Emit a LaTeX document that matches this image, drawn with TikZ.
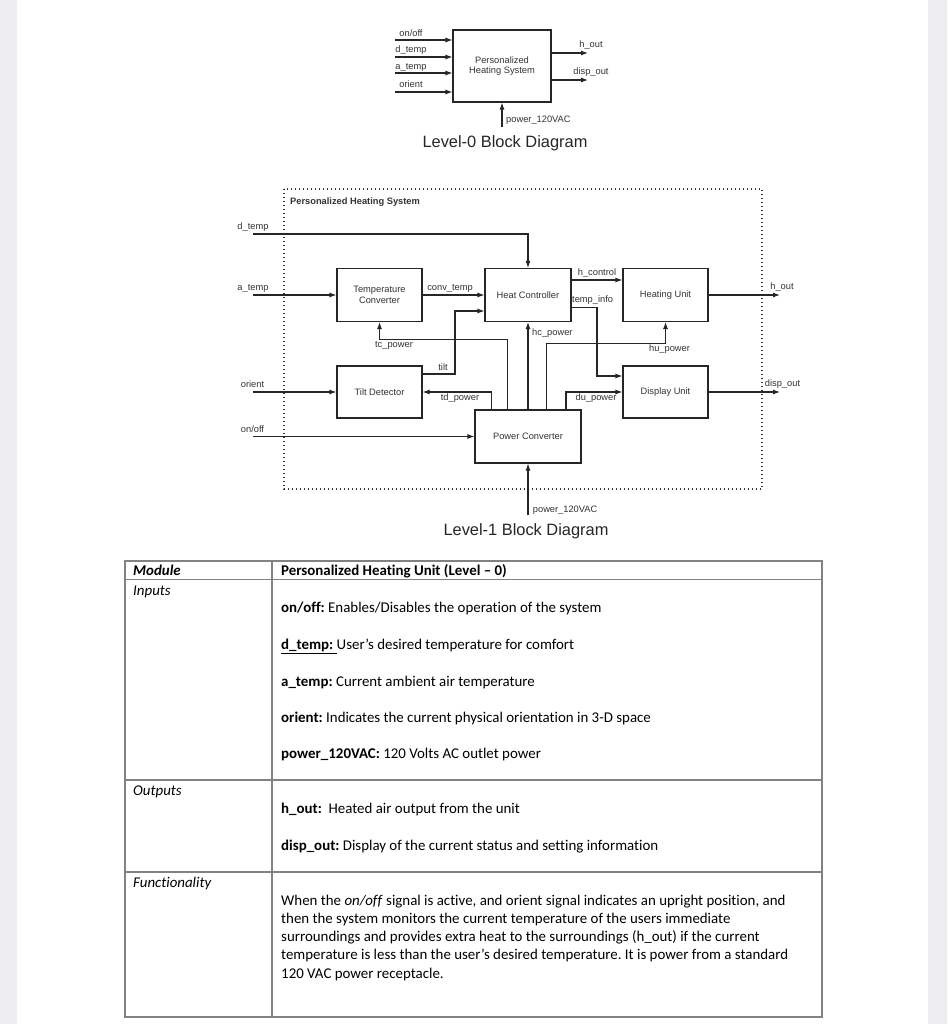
\documentclass[tikz,border=0pt]{standalone}
\usepackage{fontspec}
\setmainfont{Carlito}[Ligatures={TeX,NoCommon}]
\newfontfamily\arialf{Liberation Sans}
\usetikzlibrary{arrows.meta}
\definecolor{pagegrey}{RGB}{236,236,241}
\definecolor{tlinec}{RGB}{130,130,130}
\frenchspacing
\begin{document}
\begin{tikzpicture}[x=1pt,y=-1pt]
\tikzset{
 blk/.style={draw=black!85, line width=1.1pt, font=\arialf\fontsize{9.3}{10.5}\selectfont, text=black!80, align=center, inner sep=0pt},
 wire/.style={draw=black!85, line width=1.1pt},
 arr/.style={wire, -{Latex[length=7pt,width=5pt]}},
 lbl/.style={font=\arialf\fontsize{9.3}{11}\selectfont, text=black!80, inner sep=0pt},
 ttl/.style={font=\arialf\fontsize{16.4}{19}\selectfont, text=black!85, inner sep=0pt},
 tbl/.style={font=\fontsize{14.9}{17.5}\selectfont, inner sep=0pt, anchor=base west},
 tline/.style={draw=tlinec, line width=1.2pt},
}
\useasboundingbox (0,0) rectangle (947,1024);
\fill[pagegrey] (0,0) rectangle (947,1024);
\fill[white] (17,0) rectangle (928,1024);

% ---------------- Level-0 ----------------
\node[blk, minimum width=98pt, minimum height=72pt] (phs) at (502,66) {Personalized\\Heating System};
\coordinate (i1) at (395,40);
\coordinate (i2) at (395,57);
\coordinate (i3) at (395,73);
\coordinate (i4) at (395,92);
\draw[arr] (i1) -- (i1 -| phs.west);
\draw[arr] (i2) -- (i2 -| phs.west);
\draw[arr] (i3) -- (i3 -| phs.west);
\draw[arr] (i4) -- (i4 -| phs.west);
\node[lbl] (l0a) at (411,33) {on/off};
\node[lbl] (l0b) at (411,50) {d\_temp};
\node[lbl] (l0c) at (411,67) {a\_temp};
\node[lbl] (l0d) at (411,84) {orient};
\coordinate (o1) at (588,53);
\coordinate (o2) at (588,80);
\draw[arr] (o1 -| phs.east) -- (o1);
\draw[arr] (o2 -| phs.east) -- (o2);
\node[lbl] (l0e) at (591,45) {h\_out};
\node[lbl] (l0f) at (591,72) {disp\_out};
\coordinate (p0) at (502,127);
\draw[arr] (p0) -- (phs.south);
\node[lbl, anchor=west] (l0g) at (506,120) {power\_120VAC};
\node[ttl] (t0) at (505,143) {Level-0 Block Diagram};

% ---------------- Level-1 ----------------
\draw[black!80, line width=1.3pt, dash pattern=on 1.3pt off 2.7pt] (284,189) rectangle (762,489);
\node[lbl, anchor=west, font=\arialf\bfseries\fontsize{9.3}{11}\selectfont] (sysname) at (290,202) {Personalized Heating System};

\node[blk, minimum width=85pt, minimum height=53pt] (tc) at (379.5,295) {Temperature\\Converter};
\node[blk, minimum width=86pt, minimum height=53pt] (hc) at (528,295) {Heat Controller};
\node[blk, minimum width=85pt, minimum height=53pt] (hu) at (665.5,295) {Heating Unit};
\node[blk, minimum width=85pt, minimum height=52pt] (td) at (379.5,392) {Tilt Detector};
\node[blk, minimum width=85pt, minimum height=52pt] (du) at (665.5,392) {Display Unit};
\node[blk, minimum width=106pt, minimum height=53pt] (pc) at (528,436.5) {Power Converter};

% external inputs
\coordinate (din) at (253,234);
\coordinate (ain) at (253,295);
\coordinate (oin) at (253,392);
\coordinate (nin) at (253,436.5);
\draw[arr] (din) -| (hc.north);
\draw[arr] (ain) -- (tc.west);
\draw[arr] (oin) -- (td.west);
\draw[arr] (nin) -- (pc.west);
\node[lbl] (l1a) at (253,227) {d\_temp};
\node[lbl] (l1b) at (253,288) {a\_temp};
\node[lbl] (l1c) at (252.5,384) {orient};
\node[lbl] (l1d) at (252.5,429) {on/off};

% internal signals
\draw[arr] (tc.east) -- (hc.west);
\node[lbl] (lconv) at (450,288) {conv\_temp};
\coordinate (tiltb) at (455,374);
\coordinate (tiltt) at (455,311);
\draw[arr] (tiltb -| td.east) -- (tiltb) -- (tiltt) -- (tiltt -| hc.west);
\node[lbl] (ltilt) at (443,367) {tilt};
\draw[arr] ([yshift=15pt]hc.east) -- ([yshift=15pt]hu.west);
\node[lbl] (lhc) at (597,273) {h\_control};
\coordinate (tib) at (597,307.7);
\coordinate (tic) at (597,376);
\draw[arr] (tib -| hc.east) -- (tib) -- (tic) -- (tic -| du.west);
\node[lbl, anchor=west] (lti) at (572,300) {temp\_info};

% outputs
\coordinate (hout) at (780,295);
\coordinate (dout) at (780,392);
\draw[arr] (hu.east) -- (hout);
\draw[arr] (du.east) -- (dout);
\node[lbl] (l1e) at (782,287) {h\_out};
\node[lbl] (l1f) at (782.5,384) {disp\_out};

% power lines
\coordinate (x1) at (491.7,0);
\coordinate (x2) at (507.3,0);
\coordinate (x4) at (546.7,0);
\coordinate (x5) at (566,0);
\coordinate (tcb) at (379.5,339.3);
\coordinate (hub) at (665.5,343.5);
\draw[arr] (pc.north -| x1) |- (td.east);
\node[lbl] (ltdp) at (460,398) {td\_power};
\draw[arr] (pc.north -| x2) |- (tcb) -- (tc.south);
\node[lbl] (ltcp) at (394,345) {tc\_power};
\draw[arr] (pc.north) -- (hc.south);
\node[lbl, anchor=west] (lhcp) at (532,333) {hc\_power};
\draw[arr] (pc.north -| x4) |- (hub) -- (hu.south);
\node[lbl] (lhup) at (669.5,349) {hu\_power};
\draw[arr] (pc.north -| x5) |- (du.west);
\node[lbl] (ldup) at (596,398) {du\_power};
\coordinate (p1) at (528,515);
\draw[arr] (p1) -- (pc.south);
\node[lbl, anchor=west] (lp1) at (532.7,510) {power\_120VAC};
\node[ttl] (t1) at (526,531) {Level-1 Block Diagram};

% ---------------- Table ----------------
\draw[tline] (125,561) rectangle (822,1017);
\draw[tline] (272,561) -- (272,1017);
\draw[tline] (125,579.5) -- (822,579.5);
\draw[tline] (125,780) -- (822,780);
\draw[tline] (125,872) -- (822,872);

\node[tbl] (mod) at (133,575) {\textbf{\textit{Module}}};
\node[tbl] (modv) at (281,575) {\textbf{Personalized Heating Unit (Level – 0)}};
\node[tbl] (inp) at (133,595) {\textit{Inputs}};
\node[tbl] (in1) at (281,612) {\textbf{on/off:} Enables/Disables the operation of the system};
\node[tbl] (in2) at (281,649) {\underline{\textbf{d\_temp:} }User’s desired temperature for comfort};
\node[tbl] (in3) at (281,686) {\textbf{a\_temp:} Current ambient air temperature};
\node[tbl] (in4) at (281,722) {\textbf{orient:} Indicates the current physical orientation in 3-D space};
\node[tbl] (in5) at (281,758) {\textbf{power\_120VAC:} 120 Volts AC outlet power};
\node[tbl] (outp) at (133,795) {\textit{Outputs}};
\node[tbl] (out1) at (281,813) {\textbf{h\_out:}\ \ Heated air output from the unit};
\node[tbl] (out2) at (281,850) {\textbf{disp\_out:} Display of the current status and setting information};
\node[tbl] (fun) at (133,887) {\textit{Functionality}};
\node[tbl] (f1) at (281,905) {When the \textit{on/off} signal is active, and orient signal indicates an upright position, and};
\node[tbl] (f2) at (281,923.3) {then the system monitors the current temperature of the users immediate};
\node[tbl] (f3) at (281,941.6) {surroundings and provides extra heat to the surroundings (h\_out) if the current};
\node[tbl] (f4) at (281,959.9) {temperature is less than the user’s desired temperature. It is power from a standard};
\node[tbl] (f5) at (281,978.2) {120 VAC power receptacle.};
\end{tikzpicture}
\end{document}
